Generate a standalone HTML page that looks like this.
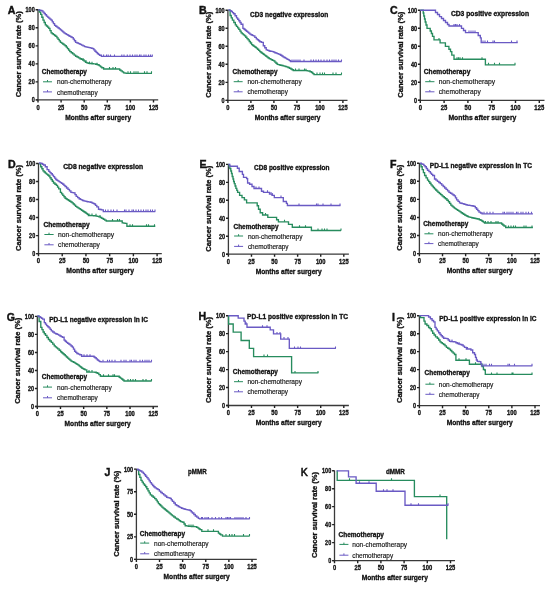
<!DOCTYPE html>
<html><head><meta charset="utf-8"><title>Kaplan-Meier survival curves</title>
<style>
html,body{margin:0;padding:0;background:#fff;}
svg{display:block;filter:blur(0.35px);}
text{font-family:'Liberation Sans', Arial, sans-serif;fill:#111;stroke:#111;stroke-width:0.32px;}
</style></head>
<body>
<svg width="550" height="589" viewBox="0 0 550 589">
<rect width="550" height="589" fill="#fff"/>
<g stroke="#3a3a3a" stroke-width="1.3" fill="none">
<path d="M38.00 9.50V99.90M35.80 99.90H158.20"/>
<path d="M35.60 99.90H38.00M35.60 81.88H38.00M35.60 63.86H38.00M35.60 45.84H38.00M35.60 27.82H38.00M35.60 9.80H38.00M38.00 99.90V102.50M61.10 99.90V102.50M84.20 99.90V102.50M107.30 99.90V102.50M130.40 99.90V102.50M153.50 99.90V102.50" stroke-width="1.4" stroke="#222"/>
</g>
<text x="34.70" y="102.30" font-size="6.7" font-weight="bold" text-anchor="end" textLength="3.05" lengthAdjust="spacingAndGlyphs">0</text>
<text x="34.70" y="84.28" font-size="6.7" font-weight="bold" text-anchor="end" textLength="6.10" lengthAdjust="spacingAndGlyphs">20</text>
<text x="34.70" y="66.26" font-size="6.7" font-weight="bold" text-anchor="end" textLength="6.10" lengthAdjust="spacingAndGlyphs">40</text>
<text x="34.70" y="48.24" font-size="6.7" font-weight="bold" text-anchor="end" textLength="6.10" lengthAdjust="spacingAndGlyphs">60</text>
<text x="34.70" y="30.22" font-size="6.7" font-weight="bold" text-anchor="end" textLength="6.10" lengthAdjust="spacingAndGlyphs">80</text>
<text x="34.70" y="12.20" font-size="6.7" font-weight="bold" text-anchor="end" textLength="9.15" lengthAdjust="spacingAndGlyphs">100</text>
<text x="38.00" y="109.70" font-size="6.7" font-weight="bold" text-anchor="middle" textLength="3.20" lengthAdjust="spacingAndGlyphs">0</text>
<text x="61.10" y="109.70" font-size="6.7" font-weight="bold" text-anchor="middle" textLength="6.39" lengthAdjust="spacingAndGlyphs">25</text>
<text x="84.20" y="109.70" font-size="6.7" font-weight="bold" text-anchor="middle" textLength="6.39" lengthAdjust="spacingAndGlyphs">50</text>
<text x="107.30" y="109.70" font-size="6.7" font-weight="bold" text-anchor="middle" textLength="6.39" lengthAdjust="spacingAndGlyphs">75</text>
<text x="130.40" y="109.70" font-size="6.7" font-weight="bold" text-anchor="middle" textLength="9.59" lengthAdjust="spacingAndGlyphs">100</text>
<text x="153.50" y="109.70" font-size="6.7" font-weight="bold" text-anchor="middle" textLength="9.59" lengthAdjust="spacingAndGlyphs">125</text>
<text x="98.10" y="119.50" font-size="7.0" font-weight="bold" text-anchor="middle" textLength="65.94" lengthAdjust="spacingAndGlyphs">Months after surgery</text>
<text x="0" y="0" font-size="7.4" font-weight="bold" text-anchor="middle" textLength="86" lengthAdjust="spacingAndGlyphs" transform="translate(20.70 54.25) rotate(-90)">Cancer survival rate (%)</text>
<text x="7.80" y="14.20" font-size="10.3" font-weight="bold" textLength="7.66" lengthAdjust="spacingAndGlyphs" style="stroke-width:0.4px">A</text>
<text x="41.80" y="74.20" font-size="7.0" font-weight="bold" textLength="45.16" lengthAdjust="spacingAndGlyphs">Chemotherapy</text>
<path d="M43.00 81.80h8.99M47.50 81.80v-1.8" stroke="#278c5e" stroke-width="1" fill="none"/>
<text x="57.00" y="84.40" font-size="6.5" textLength="54.55" lengthAdjust="spacingAndGlyphs" style="stroke-width:0.15px">non-chemotherapy</text>
<path d="M43.00 91.90h8.99M47.50 91.90v-1.8" stroke="#6a5ac4" stroke-width="1" fill="none"/>
<text x="57.00" y="94.50" font-size="6.5" textLength="40.66" lengthAdjust="spacingAndGlyphs" style="stroke-width:0.15px">chemotherapy</text>
<path d="M38.20 10.00H39.45V12.15H40.70V14.30H41.85V17.20H43.00V20.10H44.15V22.45H45.30V24.80H46.47V25.97H47.63V27.13H48.80V28.30H49.95V30.60H51.10V32.90H52.27V33.77H53.45V34.65H54.62V35.52H55.80V36.40H56.95V37.88H58.10V39.35H59.25V40.82H60.40V42.30H61.57V43.15H62.75V44.00H63.92V44.85H65.10V45.70H66.27V47.18H67.45V48.65H68.62V50.12H69.80V51.60H71.25V52.75H72.70V53.90H74.15V55.05H75.60V56.20H77.07V57.03H78.53V57.87H80.00V58.70H81.35V59.35H82.70V60.00H84.10V61.15H85.50V62.30H86.85V62.85H88.20V63.40H89.46V63.50H90.72V63.60H91.98V63.70H93.24V63.80H94.50V63.90H95.73V64.27H96.97V64.63H98.20V65.00H99.40V65.90H100.60V66.80H101.80V67.70H103.60V69.00H118.40H119.65V69.95H120.90V70.90H122.25V71.85H123.60V72.80H125.00V73.05H126.40V73.30H152.00" stroke="#278c5e" stroke-width="1.35" fill="none" stroke-linejoin="miter"/>
<path d="M83.00 60.00v-2.0M86.00 62.30v-2.0M89.50 63.50v-2.0M92.00 63.70v-2.0M97.00 64.63v-2.0M109.50 69.00v-2.0M113.00 69.00v-2.0M115.50 69.00v-2.0M128.00 73.30v-2.0M130.50 73.30v-2.0M134.00 73.30v-2.0M136.00 73.30v-2.0M138.00 73.30v-2.0M144.50 73.30v-2.0M147.00 73.30v-2.0M151.50 73.30v-2.0" stroke="#278c5e" stroke-width="1.1" fill="none"/>
<path d="M38.20 9.80H39.40V10.13H40.60V10.47H41.80V10.80H42.97V12.12H44.15V13.45H45.33V14.78H46.50V16.10H47.65V17.10H48.80V18.10H49.95V19.10H51.10V20.10H52.27V21.87H53.43V23.63H54.60V25.40H55.77V26.27H56.95V27.15H58.12V28.02H59.30V28.90H60.45V29.90H61.60V30.90H62.75V31.90H63.90V32.90H65.08V33.60H66.26V34.30H67.44V35.00H68.62V35.70H69.80V36.40H70.95V37.00H72.10V37.60H73.27V39.17H74.43V40.73H75.60V42.30H77.07V42.97H78.53V43.63H80.00V44.30H81.50V45.07H83.00V45.83H84.50V46.60H85.65V46.85H86.80V47.10H87.95V47.35H89.10V47.60H90.30V47.93H91.50V48.27H92.70V48.60H93.85V49.90H95.00V51.20H96.15V52.35H97.30V53.50H98.40V54.35H99.50V55.20H101.40V56.40H152.50" stroke="#6a5ac4" stroke-width="1.35" fill="none" stroke-linejoin="miter"/>
<path d="M103.60 56.40v-2.0M106.50 56.40v-2.0M108.20 56.40v-2.0M110.50 56.40v-2.0M114.50 56.40v-2.0M121.80 56.40v-2.0M124.00 56.40v-2.0M127.30 56.40v-2.0M130.00 56.40v-2.0M132.50 56.40v-2.0M135.00 56.40v-2.0M137.00 56.40v-2.0M139.50 56.40v-2.0M141.00 56.40v-2.0M144.00 56.40v-2.0M146.00 56.40v-2.0M148.50 56.40v-2.0M150.50 56.40v-2.0M152.30 56.40v-2.0" stroke="#6a5ac4" stroke-width="1.1" fill="none"/>
<g stroke="#3a3a3a" stroke-width="1.3" fill="none">
<path d="M227.90 9.90V100.40M225.70 100.40H347.50"/>
<path d="M225.50 100.40H227.90M225.50 82.36H227.90M225.50 64.32H227.90M225.50 46.28H227.90M225.50 28.24H227.90M225.50 10.20H227.90M227.90 100.40V103.00M250.90 100.40V103.00M273.90 100.40V103.00M296.90 100.40V103.00M319.90 100.40V103.00M342.90 100.40V103.00" stroke-width="1.4" stroke="#222"/>
</g>
<text x="224.60" y="102.80" font-size="6.7" font-weight="bold" text-anchor="end" textLength="3.05" lengthAdjust="spacingAndGlyphs">0</text>
<text x="224.60" y="84.76" font-size="6.7" font-weight="bold" text-anchor="end" textLength="6.10" lengthAdjust="spacingAndGlyphs">20</text>
<text x="224.60" y="66.72" font-size="6.7" font-weight="bold" text-anchor="end" textLength="6.10" lengthAdjust="spacingAndGlyphs">40</text>
<text x="224.60" y="48.68" font-size="6.7" font-weight="bold" text-anchor="end" textLength="6.10" lengthAdjust="spacingAndGlyphs">60</text>
<text x="224.60" y="30.64" font-size="6.7" font-weight="bold" text-anchor="end" textLength="6.10" lengthAdjust="spacingAndGlyphs">80</text>
<text x="224.60" y="12.60" font-size="6.7" font-weight="bold" text-anchor="end" textLength="9.15" lengthAdjust="spacingAndGlyphs">100</text>
<text x="227.90" y="110.20" font-size="6.7" font-weight="bold" text-anchor="middle" textLength="3.18" lengthAdjust="spacingAndGlyphs">0</text>
<text x="250.90" y="110.20" font-size="6.7" font-weight="bold" text-anchor="middle" textLength="6.37" lengthAdjust="spacingAndGlyphs">25</text>
<text x="273.90" y="110.20" font-size="6.7" font-weight="bold" text-anchor="middle" textLength="6.37" lengthAdjust="spacingAndGlyphs">50</text>
<text x="296.90" y="110.20" font-size="6.7" font-weight="bold" text-anchor="middle" textLength="6.37" lengthAdjust="spacingAndGlyphs">75</text>
<text x="319.90" y="110.20" font-size="6.7" font-weight="bold" text-anchor="middle" textLength="9.55" lengthAdjust="spacingAndGlyphs">100</text>
<text x="342.90" y="110.20" font-size="6.7" font-weight="bold" text-anchor="middle" textLength="9.55" lengthAdjust="spacingAndGlyphs">125</text>
<text x="287.70" y="120.00" font-size="7.0" font-weight="bold" text-anchor="middle" textLength="65.66" lengthAdjust="spacingAndGlyphs">Months after surgery</text>
<text x="0" y="0" font-size="7.4" font-weight="bold" text-anchor="middle" textLength="86" lengthAdjust="spacingAndGlyphs" transform="translate(210.60 54.70) rotate(-90)">Cancer survival rate (%)</text>
<text x="198.90" y="13.60" font-size="10.3" font-weight="bold" textLength="7.66" lengthAdjust="spacingAndGlyphs" style="stroke-width:0.4px">B</text>
<text x="250.00" y="16.60" font-size="6.6" font-weight="bold" textLength="78.20" lengthAdjust="spacingAndGlyphs">CD3 negative expression</text>
<text x="232.60" y="73.60" font-size="7.0" font-weight="bold" textLength="44.97" lengthAdjust="spacingAndGlyphs">Chemotherapy</text>
<path d="M233.70 81.70h8.95M238.18 81.70v-1.8" stroke="#278c5e" stroke-width="1" fill="none"/>
<text x="247.40" y="84.30" font-size="6.5" textLength="54.32" lengthAdjust="spacingAndGlyphs" style="stroke-width:0.15px">non-chemotherapy</text>
<path d="M233.70 91.80h8.95M238.18 91.80v-1.8" stroke="#6a5ac4" stroke-width="1" fill="none"/>
<text x="247.40" y="94.40" font-size="6.5" textLength="40.49" lengthAdjust="spacingAndGlyphs" style="stroke-width:0.15px">chemotherapy</text>
<path d="M228.30 10.20H230.10V15.50H231.25V17.80H232.40V20.10H233.85V22.45H235.30V24.80H236.47V26.33H237.63V27.87H238.80V29.40H239.95V31.15H241.10V32.90H242.27V33.90H243.43V34.90H244.60V35.90H245.77V37.23H246.93V38.57H248.10V39.90H249.27V41.47H250.43V43.03H251.60V44.60H252.78V45.48H253.95V46.35H255.12V47.23H256.30V48.10H257.47V49.27H258.63V50.43H259.80V51.60H260.95V52.48H262.10V53.35H263.25V54.23H264.40V55.10H265.57V55.98H266.75V56.85H267.93V57.73H269.10V58.60H270.25V59.17H271.40V59.75H272.55V60.33H273.70V60.90H274.87V62.07H276.03V63.23H277.20V64.40H278.38V64.68H279.55V64.95H280.72V65.22H281.90V65.50H283.05V65.83H284.20V66.15H285.35V66.47H286.50V66.80H287.97V67.53H289.43V68.27H290.90V69.00H292.10V69.75H293.30V70.50H304.50H305.87V70.67H307.23V70.83H308.60V71.00H310.10V71.75H311.60V72.50H312.80V73.55H314.00V74.60H341.70" stroke="#278c5e" stroke-width="1.35" fill="none" stroke-linejoin="miter"/>
<path d="M295.50 70.50v-2.0M299.00 70.50v-2.0M304.50 70.50v-2.0M306.00 70.67v-2.0M317.00 74.60v-2.0M320.00 74.60v-2.0M322.50 74.60v-2.0M324.50 74.60v-2.0M333.00 74.60v-2.0M336.00 74.60v-2.0M341.50 74.60v-2.0" stroke="#278c5e" stroke-width="1.1" fill="none"/>
<path d="M228.30 9.90H229.75V10.65H231.20V11.40H232.40V12.55H233.60V13.70H235.05V15.75H236.50V17.80H237.65V19.25H238.80V20.70H239.95V22.45H241.10V24.20H242.90V28.30H244.07V29.27H245.23V30.23H246.40V31.20H247.57V32.17H248.73V33.13H249.90V34.10H251.07V34.70H252.23V35.30H253.40V35.90H254.85V37.35H256.30V38.80H257.47V39.77H258.63V40.73H259.80V41.70H261.50V42.30H263.30V45.70H264.75V47.75H266.20V49.80H267.65V50.40H269.10V51.00H270.27V51.20H271.43V51.40H272.60V51.60H273.75V52.15H274.90V52.70H276.07V53.15H277.25V53.60H278.43V54.05H279.60V54.50H280.73V55.27H281.87V56.03H283.00V56.80H284.17V57.47H285.33V58.13H286.50V58.80H287.50V59.30H288.50V59.80H289.50V60.65H290.50V61.50H341.70" stroke="#6a5ac4" stroke-width="1.35" fill="none" stroke-linejoin="miter"/>
<path d="M292.00 61.50v-2.0M294.00 61.50v-2.0M296.00 61.50v-2.0M298.00 61.50v-2.0M300.00 61.50v-2.0M304.00 61.50v-2.0M311.00 61.50v-2.0M313.50 61.50v-2.0M316.00 61.50v-2.0M318.50 61.50v-2.0M321.00 61.50v-2.0M324.00 61.50v-2.0M327.00 61.50v-2.0M329.50 61.50v-2.0M332.00 61.50v-2.0M334.00 61.50v-2.0M336.00 61.50v-2.0M338.50 61.50v-2.0M341.50 61.50v-2.0" stroke="#6a5ac4" stroke-width="1.1" fill="none"/>
<g stroke="#3a3a3a" stroke-width="1.3" fill="none">
<path d="M420.30 9.90V100.30M418.10 100.30H544.50"/>
<path d="M417.90 100.30H420.30M417.90 82.28H420.30M417.90 64.26H420.30M417.90 46.24H420.30M417.90 28.22H420.30M417.90 10.20H420.30M420.30 100.30V102.90M444.10 100.30V102.90M467.90 100.30V102.90M491.70 100.30V102.90M515.50 100.30V102.90M539.30 100.30V102.90" stroke-width="1.4" stroke="#222"/>
</g>
<text x="417.00" y="102.70" font-size="6.7" font-weight="bold" text-anchor="end" textLength="3.05" lengthAdjust="spacingAndGlyphs">0</text>
<text x="417.00" y="84.68" font-size="6.7" font-weight="bold" text-anchor="end" textLength="6.10" lengthAdjust="spacingAndGlyphs">20</text>
<text x="417.00" y="66.66" font-size="6.7" font-weight="bold" text-anchor="end" textLength="6.10" lengthAdjust="spacingAndGlyphs">40</text>
<text x="417.00" y="48.64" font-size="6.7" font-weight="bold" text-anchor="end" textLength="6.10" lengthAdjust="spacingAndGlyphs">60</text>
<text x="417.00" y="30.62" font-size="6.7" font-weight="bold" text-anchor="end" textLength="6.10" lengthAdjust="spacingAndGlyphs">80</text>
<text x="417.00" y="12.60" font-size="6.7" font-weight="bold" text-anchor="end" textLength="9.15" lengthAdjust="spacingAndGlyphs">100</text>
<text x="420.30" y="110.10" font-size="6.7" font-weight="bold" text-anchor="middle" textLength="3.29" lengthAdjust="spacingAndGlyphs">0</text>
<text x="444.10" y="110.10" font-size="6.7" font-weight="bold" text-anchor="middle" textLength="6.59" lengthAdjust="spacingAndGlyphs">25</text>
<text x="467.90" y="110.10" font-size="6.7" font-weight="bold" text-anchor="middle" textLength="6.59" lengthAdjust="spacingAndGlyphs">50</text>
<text x="491.70" y="110.10" font-size="6.7" font-weight="bold" text-anchor="middle" textLength="6.59" lengthAdjust="spacingAndGlyphs">75</text>
<text x="515.50" y="110.10" font-size="6.7" font-weight="bold" text-anchor="middle" textLength="9.88" lengthAdjust="spacingAndGlyphs">100</text>
<text x="539.30" y="110.10" font-size="6.7" font-weight="bold" text-anchor="middle" textLength="9.88" lengthAdjust="spacingAndGlyphs">125</text>
<text x="482.40" y="119.90" font-size="7.0" font-weight="bold" text-anchor="middle" textLength="67.94" lengthAdjust="spacingAndGlyphs">Months after surgery</text>
<text x="0" y="0" font-size="7.4" font-weight="bold" text-anchor="middle" textLength="86" lengthAdjust="spacingAndGlyphs" transform="translate(403.00 54.65) rotate(-90)">Cancer survival rate (%)</text>
<text x="389.90" y="14.10" font-size="10.3" font-weight="bold" textLength="7.66" lengthAdjust="spacingAndGlyphs" style="stroke-width:0.4px">C</text>
<text x="450.90" y="16.10" font-size="6.6" font-weight="bold" textLength="78.20" lengthAdjust="spacingAndGlyphs">CD3 positive expression</text>
<text x="423.80" y="74.10" font-size="7.0" font-weight="bold" textLength="46.53" lengthAdjust="spacingAndGlyphs">Chemotherapy</text>
<path d="M425.20 81.70h9.26M429.83 81.70v-1.8" stroke="#278c5e" stroke-width="1" fill="none"/>
<text x="438.80" y="84.30" font-size="6.5" textLength="56.21" lengthAdjust="spacingAndGlyphs" style="stroke-width:0.15px">non-chemotherapy</text>
<path d="M425.20 91.80h9.26M429.83 91.80v-1.8" stroke="#6a5ac4" stroke-width="1" fill="none"/>
<text x="438.80" y="94.40" font-size="6.5" textLength="41.90" lengthAdjust="spacingAndGlyphs" style="stroke-width:0.15px">chemotherapy</text>
<path d="M420.30 10.20H423.20V13.00H423.80V16.00H424.50V19.00H425.20V22.00H426.00V25.00H427.00V28.30H430.20V31.00H431.40V33.50H432.50V36.40H434.00V39.90H440.10V42.80H445.40V46.30H448.90V49.20H450.50V51.60H451.80V55.10H454.00V59.20H485.40V64.80H515.40" stroke="#278c5e" stroke-width="1.35" fill="none" stroke-linejoin="miter"/>
<path d="M439.00 39.90v-2.0M457.00 59.20v-2.0M458.50 59.20v-2.0M460.00 59.20v-2.0M462.50 59.20v-2.0M482.00 59.20v-2.0M488.50 64.80v-2.0M494.50 64.80v-2.0M499.50 64.80v-2.0M515.00 64.80v-2.0" stroke="#278c5e" stroke-width="1.1" fill="none"/>
<path d="M420.30 10.20H435.50V12.50H437.50V14.50H439.50V16.60H441.50V18.50H443.50V20.50H445.50V22.50H447.50V24.50H449.00V26.00H461.50V28.30H463.50V30.50H465.50V32.60H478.20V35.50H480.30V37.80H481.20V42.60H517.70" stroke="#6a5ac4" stroke-width="1.35" fill="none" stroke-linejoin="miter"/>
<path d="M454.00 26.00v-2.0M455.50 26.00v-2.0M457.00 26.00v-2.0M459.50 26.00v-2.0M469.00 32.60v-2.0M471.00 32.60v-2.0M473.00 32.60v-2.0M475.00 32.60v-2.0M483.00 42.60v-2.0M485.00 42.60v-2.0M487.50 42.60v-2.0M493.00 42.60v-2.0M494.50 42.60v-2.0M511.50 42.60v-2.0M517.00 42.60v-2.0" stroke="#6a5ac4" stroke-width="1.1" fill="none"/>
<g stroke="#3a3a3a" stroke-width="1.3" fill="none">
<path d="M38.50 163.20V253.60M36.30 253.60H161.80"/>
<path d="M36.10 253.60H38.50M36.10 235.58H38.50M36.10 217.56H38.50M36.10 199.54H38.50M36.10 181.52H38.50M36.10 163.50H38.50M38.50 253.60V256.20M62.22 253.60V256.20M85.94 253.60V256.20M109.66 253.60V256.20M133.38 253.60V256.20M157.10 253.60V256.20" stroke-width="1.4" stroke="#222"/>
</g>
<text x="35.20" y="256.00" font-size="6.7" font-weight="bold" text-anchor="end" textLength="3.05" lengthAdjust="spacingAndGlyphs">0</text>
<text x="35.20" y="237.98" font-size="6.7" font-weight="bold" text-anchor="end" textLength="6.10" lengthAdjust="spacingAndGlyphs">20</text>
<text x="35.20" y="219.96" font-size="6.7" font-weight="bold" text-anchor="end" textLength="6.10" lengthAdjust="spacingAndGlyphs">40</text>
<text x="35.20" y="201.94" font-size="6.7" font-weight="bold" text-anchor="end" textLength="6.10" lengthAdjust="spacingAndGlyphs">60</text>
<text x="35.20" y="183.92" font-size="6.7" font-weight="bold" text-anchor="end" textLength="6.10" lengthAdjust="spacingAndGlyphs">80</text>
<text x="35.20" y="165.90" font-size="6.7" font-weight="bold" text-anchor="end" textLength="9.15" lengthAdjust="spacingAndGlyphs">100</text>
<text x="38.50" y="263.40" font-size="6.7" font-weight="bold" text-anchor="middle" textLength="3.28" lengthAdjust="spacingAndGlyphs">0</text>
<text x="62.22" y="263.40" font-size="6.7" font-weight="bold" text-anchor="middle" textLength="6.57" lengthAdjust="spacingAndGlyphs">25</text>
<text x="85.94" y="263.40" font-size="6.7" font-weight="bold" text-anchor="middle" textLength="6.57" lengthAdjust="spacingAndGlyphs">50</text>
<text x="109.66" y="263.40" font-size="6.7" font-weight="bold" text-anchor="middle" textLength="6.57" lengthAdjust="spacingAndGlyphs">75</text>
<text x="133.38" y="263.40" font-size="6.7" font-weight="bold" text-anchor="middle" textLength="9.85" lengthAdjust="spacingAndGlyphs">100</text>
<text x="157.10" y="263.40" font-size="6.7" font-weight="bold" text-anchor="middle" textLength="9.85" lengthAdjust="spacingAndGlyphs">125</text>
<text x="100.15" y="273.20" font-size="7.0" font-weight="bold" text-anchor="middle" textLength="67.71" lengthAdjust="spacingAndGlyphs">Months after surgery</text>
<text x="0" y="0" font-size="7.4" font-weight="bold" text-anchor="middle" textLength="86" lengthAdjust="spacingAndGlyphs" transform="translate(21.20 207.95) rotate(-90)">Cancer survival rate (%)</text>
<text x="8.00" y="167.70" font-size="10.3" font-weight="bold" textLength="7.66" lengthAdjust="spacingAndGlyphs" style="stroke-width:0.4px">D</text>
<text x="63.20" y="169.10" font-size="6.6" font-weight="bold" textLength="80.00" lengthAdjust="spacingAndGlyphs">CD8 negative expression</text>
<text x="43.40" y="227.00" font-size="7.0" font-weight="bold" textLength="46.37" lengthAdjust="spacingAndGlyphs">Chemotherapy</text>
<path d="M44.40 234.50h9.23M49.02 234.50v-1.8" stroke="#278c5e" stroke-width="1" fill="none"/>
<text x="58.10" y="237.10" font-size="6.5" textLength="56.02" lengthAdjust="spacingAndGlyphs" style="stroke-width:0.15px">non-chemotherapy</text>
<path d="M44.40 244.80h9.23M49.02 244.80v-1.8" stroke="#6a5ac4" stroke-width="1" fill="none"/>
<text x="58.10" y="247.40" font-size="6.5" textLength="41.76" lengthAdjust="spacingAndGlyphs" style="stroke-width:0.15px">chemotherapy</text>
<path d="M38.90 163.80H40.70V166.70H41.85V168.75H43.00V170.80H44.15V171.95H45.30V173.10H46.47V174.07H47.63V175.03H48.80V176.00H49.95V177.75H51.10V179.50H52.30V181.25H53.50V183.00H54.95V184.20H56.40V185.40H57.55V187.10H58.70V188.80H60.40V192.30H61.60V193.80H62.80V195.30H63.95V196.75H65.10V198.20H66.27V198.97H67.43V199.73H68.60V200.50H69.77V201.27H70.93V202.03H72.10V202.80H73.27V203.97H74.43V205.13H75.60V206.30H76.77V207.07H77.93V207.83H79.10V208.60H80.27V209.40H81.43V210.20H82.60V211.00H83.77V211.77H84.93V212.53H86.10V213.30H87.25V214.40H88.40V215.50H89.57V215.53H90.73V215.57H91.90V215.60H93.45V215.70H95.00V215.80H96.20V216.05H97.40V216.30H98.85V216.90H100.30V217.50H101.80V218.35H103.30V219.20H104.75V220.10H106.20V221.00H120.40H122.20V222.80H123.65V223.10H125.10V223.40H126.90V226.20H155.30" stroke="#278c5e" stroke-width="1.35" fill="none" stroke-linejoin="miter"/>
<path d="M89.00 215.50v-2.0M92.00 215.60v-2.0M96.00 215.80v-2.0M100.00 216.90v-2.0M112.50 221.00v-2.0M117.50 221.00v-2.0M119.50 221.00v-2.0M130.00 226.20v-2.0M132.50 226.20v-2.0M146.50 226.20v-2.0M148.50 226.20v-2.0M154.50 226.20v-2.0" stroke="#278c5e" stroke-width="1.1" fill="none"/>
<path d="M38.90 162.90H40.05V163.15H41.20V163.40H42.40V164.20H43.60V165.00H45.30V166.70H47.10V169.60H48.80V171.40H49.95V172.55H51.10V173.70H52.30V175.15H53.50V176.60H54.65V178.05H55.80V179.50H56.97V180.30H58.13V181.10H59.30V181.90H60.47V182.67H61.63V183.43H62.80V184.20H63.95V185.35H65.10V186.50H66.55V187.95H68.00V189.40H69.45V190.85H70.90V192.30H72.35V192.60H73.80V192.90H75.00V194.65H76.20V196.40H77.65V197.55H79.10V198.70H80.27V199.30H81.43V199.90H82.60V200.50H83.75V200.80H84.90V201.10H86.05V201.40H87.20V201.70H88.37V201.87H89.53V202.03H90.70V202.20H91.87V202.80H93.03V203.40H94.20V204.00H95.50V205.40H96.80V206.80H98.50V209.20H100.00V209.50H101.50V209.80H103.30V211.60H155.30" stroke="#6a5ac4" stroke-width="1.35" fill="none" stroke-linejoin="miter"/>
<path d="M105.50 211.60v-2.0M108.00 211.60v-2.0M111.00 211.60v-2.0M113.50 211.60v-2.0M117.00 211.60v-2.0M124.50 211.60v-2.0M126.00 211.60v-2.0M129.00 211.60v-2.0M132.00 211.60v-2.0M133.50 211.60v-2.0M136.00 211.60v-2.0M138.50 211.60v-2.0M141.00 211.60v-2.0M143.50 211.60v-2.0M146.00 211.60v-2.0M148.00 211.60v-2.0M150.50 211.60v-2.0M152.50 211.60v-2.0M155.00 211.60v-2.0" stroke="#6a5ac4" stroke-width="1.1" fill="none"/>
<g stroke="#3a3a3a" stroke-width="1.3" fill="none">
<path d="M228.40 164.10V254.20M226.20 254.20H348.90"/>
<path d="M226.00 254.20H228.40M226.00 236.24H228.40M226.00 218.28H228.40M226.00 200.32H228.40M226.00 182.36H228.40M226.00 164.40H228.40M228.40 254.20V256.80M251.48 254.20V256.80M274.56 254.20V256.80M297.64 254.20V256.80M320.72 254.20V256.80M343.80 254.20V256.80" stroke-width="1.4" stroke="#222"/>
</g>
<text x="225.10" y="256.60" font-size="6.7" font-weight="bold" text-anchor="end" textLength="3.05" lengthAdjust="spacingAndGlyphs">0</text>
<text x="225.10" y="238.64" font-size="6.7" font-weight="bold" text-anchor="end" textLength="6.10" lengthAdjust="spacingAndGlyphs">20</text>
<text x="225.10" y="220.68" font-size="6.7" font-weight="bold" text-anchor="end" textLength="6.10" lengthAdjust="spacingAndGlyphs">40</text>
<text x="225.10" y="202.72" font-size="6.7" font-weight="bold" text-anchor="end" textLength="6.10" lengthAdjust="spacingAndGlyphs">60</text>
<text x="225.10" y="184.76" font-size="6.7" font-weight="bold" text-anchor="end" textLength="6.10" lengthAdjust="spacingAndGlyphs">80</text>
<text x="225.10" y="166.80" font-size="6.7" font-weight="bold" text-anchor="end" textLength="9.15" lengthAdjust="spacingAndGlyphs">100</text>
<text x="228.40" y="264.00" font-size="6.7" font-weight="bold" text-anchor="middle" textLength="3.19" lengthAdjust="spacingAndGlyphs">0</text>
<text x="251.48" y="264.00" font-size="6.7" font-weight="bold" text-anchor="middle" textLength="6.39" lengthAdjust="spacingAndGlyphs">25</text>
<text x="274.56" y="264.00" font-size="6.7" font-weight="bold" text-anchor="middle" textLength="6.39" lengthAdjust="spacingAndGlyphs">50</text>
<text x="297.64" y="264.00" font-size="6.7" font-weight="bold" text-anchor="middle" textLength="6.39" lengthAdjust="spacingAndGlyphs">75</text>
<text x="320.72" y="264.00" font-size="6.7" font-weight="bold" text-anchor="middle" textLength="9.58" lengthAdjust="spacingAndGlyphs">100</text>
<text x="343.80" y="264.00" font-size="6.7" font-weight="bold" text-anchor="middle" textLength="9.58" lengthAdjust="spacingAndGlyphs">125</text>
<text x="288.65" y="273.80" font-size="7.0" font-weight="bold" text-anchor="middle" textLength="65.89" lengthAdjust="spacingAndGlyphs">Months after surgery</text>
<text x="0" y="0" font-size="7.4" font-weight="bold" text-anchor="middle" textLength="86" lengthAdjust="spacingAndGlyphs" transform="translate(211.10 208.70) rotate(-90)">Cancer survival rate (%)</text>
<text x="199.40" y="168.20" font-size="10.3" font-weight="bold" textLength="7.07" lengthAdjust="spacingAndGlyphs" style="stroke-width:0.4px">E</text>
<text x="254.10" y="169.90" font-size="6.6" font-weight="bold" textLength="75.40" lengthAdjust="spacingAndGlyphs">CD8 positive expression</text>
<text x="233.50" y="229.00" font-size="7.0" font-weight="bold" textLength="45.12" lengthAdjust="spacingAndGlyphs">Chemotherapy</text>
<path d="M234.10 236.00h8.98M238.59 236.00v-1.8" stroke="#278c5e" stroke-width="1" fill="none"/>
<text x="247.90" y="238.60" font-size="6.5" textLength="54.51" lengthAdjust="spacingAndGlyphs" style="stroke-width:0.15px">non-chemotherapy</text>
<path d="M234.10 246.40h8.98M238.59 246.40v-1.8" stroke="#6a5ac4" stroke-width="1" fill="none"/>
<text x="247.90" y="249.00" font-size="6.5" textLength="40.63" lengthAdjust="spacingAndGlyphs" style="stroke-width:0.15px">chemotherapy</text>
<path d="M228.40 164.40H228.90V166.00H229.80V168.50H230.80V171.00H231.50V173.50H232.20V176.50H233.00V179.00H233.60V181.50H234.30V183.60H235.10V186.00H235.90V188.30H236.80V190.30H237.60V192.30H239.60V195.30H242.00V197.60H244.40V199.90H246.60V202.80H257.20V205.70H258.50V209.20H260.20V212.70H262.60V215.00H267.80V217.40H276.60V219.70H278.40V221.80H288.50V224.30H292.30V227.20H311.40V230.50H341.10" stroke="#278c5e" stroke-width="1.35" fill="none" stroke-linejoin="miter"/>
<path d="M244.50 199.90v-2.0M265.50 215.00v-2.0M284.50 221.80v-2.0M299.50 227.20v-2.0M305.50 227.20v-2.0M318.00 230.50v-2.0M322.00 230.50v-2.0M324.50 230.50v-2.0M327.00 230.50v-2.0M341.00 230.50v-2.0" stroke="#278c5e" stroke-width="1.1" fill="none"/>
<path d="M228.40 164.40H229.80V166.20H237.40V168.20H239.20V171.50H242.40V174.30H243.50V177.30H246.60V178.60H247.60V181.30H247.60V183.00H249.60V184.20H252.00V186.50H254.00V188.50H261.50V191.20H263.50V192.30H269.50V194.10H272.00V195.30H274.30V197.60H283.30V201.50H286.40V203.40H287.40V205.50H340.50" stroke="#6a5ac4" stroke-width="1.35" fill="none" stroke-linejoin="miter"/>
<path d="M256.00 188.50v-2.0M259.00 188.50v-2.0M267.50 192.30v-2.0M271.00 194.10v-2.0M272.50 195.30v-2.0M281.00 197.60v-2.0M299.00 205.50v-2.0M316.50 205.50v-2.0M318.00 205.50v-2.0M323.00 205.50v-2.0M331.00 205.50v-2.0M340.00 205.50v-2.0" stroke="#6a5ac4" stroke-width="1.1" fill="none"/>
<g stroke="#3a3a3a" stroke-width="1.3" fill="none">
<path d="M419.40 162.90V253.60M417.20 253.60H540.00"/>
<path d="M417.00 253.60H419.40M417.00 235.52H419.40M417.00 217.44H419.40M417.00 199.36H419.40M417.00 181.28H419.40M417.00 163.20H419.40M419.40 253.60V256.20M442.52 253.60V256.20M465.64 253.60V256.20M488.76 253.60V256.20M511.88 253.60V256.20M535.00 253.60V256.20" stroke-width="1.4" stroke="#222"/>
</g>
<text x="416.10" y="256.00" font-size="6.7" font-weight="bold" text-anchor="end" textLength="3.05" lengthAdjust="spacingAndGlyphs">0</text>
<text x="416.10" y="237.92" font-size="6.7" font-weight="bold" text-anchor="end" textLength="6.10" lengthAdjust="spacingAndGlyphs">20</text>
<text x="416.10" y="219.84" font-size="6.7" font-weight="bold" text-anchor="end" textLength="6.10" lengthAdjust="spacingAndGlyphs">40</text>
<text x="416.10" y="201.76" font-size="6.7" font-weight="bold" text-anchor="end" textLength="6.10" lengthAdjust="spacingAndGlyphs">60</text>
<text x="416.10" y="183.68" font-size="6.7" font-weight="bold" text-anchor="end" textLength="6.10" lengthAdjust="spacingAndGlyphs">80</text>
<text x="416.10" y="165.60" font-size="6.7" font-weight="bold" text-anchor="end" textLength="9.15" lengthAdjust="spacingAndGlyphs">100</text>
<text x="419.40" y="263.40" font-size="6.7" font-weight="bold" text-anchor="middle" textLength="3.20" lengthAdjust="spacingAndGlyphs">0</text>
<text x="442.52" y="263.40" font-size="6.7" font-weight="bold" text-anchor="middle" textLength="6.40" lengthAdjust="spacingAndGlyphs">25</text>
<text x="465.64" y="263.40" font-size="6.7" font-weight="bold" text-anchor="middle" textLength="6.40" lengthAdjust="spacingAndGlyphs">50</text>
<text x="488.76" y="263.40" font-size="6.7" font-weight="bold" text-anchor="middle" textLength="6.40" lengthAdjust="spacingAndGlyphs">75</text>
<text x="511.88" y="263.40" font-size="6.7" font-weight="bold" text-anchor="middle" textLength="9.60" lengthAdjust="spacingAndGlyphs">100</text>
<text x="535.00" y="263.40" font-size="6.7" font-weight="bold" text-anchor="middle" textLength="9.60" lengthAdjust="spacingAndGlyphs">125</text>
<text x="479.70" y="273.20" font-size="7.0" font-weight="bold" text-anchor="middle" textLength="66.00" lengthAdjust="spacingAndGlyphs">Months after surgery</text>
<text x="0" y="0" font-size="7.4" font-weight="bold" text-anchor="middle" textLength="86" lengthAdjust="spacingAndGlyphs" transform="translate(402.10 207.80) rotate(-90)">Cancer survival rate (%)</text>
<text x="390.10" y="168.20" font-size="10.3" font-weight="bold" textLength="6.48" lengthAdjust="spacingAndGlyphs" style="stroke-width:0.4px">F</text>
<text x="429.80" y="168.20" font-size="6.6" font-weight="bold" textLength="102.10" lengthAdjust="spacingAndGlyphs">PD-L1 negative expression in TC</text>
<text x="423.20" y="225.70" font-size="7.0" font-weight="bold" textLength="45.20" lengthAdjust="spacingAndGlyphs">Chemotherapy</text>
<path d="M424.40 233.80h9.00M428.90 233.80v-1.8" stroke="#278c5e" stroke-width="1" fill="none"/>
<text x="438.10" y="236.40" font-size="6.5" textLength="54.60" lengthAdjust="spacingAndGlyphs" style="stroke-width:0.15px">non-chemotherapy</text>
<path d="M424.40 243.60h9.00M428.90 243.60v-1.8" stroke="#6a5ac4" stroke-width="1" fill="none"/>
<text x="438.10" y="246.20" font-size="6.5" textLength="40.70" lengthAdjust="spacingAndGlyphs" style="stroke-width:0.15px">chemotherapy</text>
<path d="M419.90 163.80H421.05V166.70H422.20V169.60H423.40V172.55H424.60V175.50H426.05V177.80H427.50V180.10H428.67V181.67H429.83V183.23H431.00V184.80H432.17V186.13H433.33V187.47H434.50V188.80H435.67V189.97H436.83V191.13H438.00V192.30H439.33V193.47H440.67V194.63H442.00V195.80H443.17V196.77H444.33V197.73H445.50V198.70H446.95V200.20H448.40V201.70H449.60V203.40H450.80V205.10H451.97V206.10H453.13V207.10H454.30V208.10H455.43V208.87H456.57V209.63H457.70V210.40H458.87V211.17H460.03V211.93H461.20V212.70H462.37V213.47H463.53V214.23H464.70V215.00H465.87V215.60H467.03V216.20H468.20V216.80H469.38V217.10H470.55V217.40H471.72V217.70H472.90V218.00H474.12V218.25H475.35V218.50H476.57V218.75H477.80V219.00H479.35V219.70H480.90V220.40H482.10V221.27H483.30V222.13H484.50V223.00H499.80H501.60V224.00H502.80V225.00H504.00V226.00H505.70V227.50H532.90" stroke="#278c5e" stroke-width="1.35" fill="none" stroke-linejoin="miter"/>
<path d="M485.50 223.00v-2.0M488.00 223.00v-2.0M491.00 223.00v-2.0M496.00 223.00v-2.0M498.00 223.00v-2.0M508.50 227.50v-2.0M511.00 227.50v-2.0M513.50 227.50v-2.0M515.50 227.50v-2.0M524.00 227.50v-2.0M526.00 227.50v-2.0M532.00 227.50v-2.0" stroke="#278c5e" stroke-width="1.1" fill="none"/>
<path d="M419.90 163.20H421.35V163.80H422.80V164.40H423.95V165.55H425.10V166.70H426.30V168.45H427.50V170.20H428.95V171.65H430.40V173.10H431.55V174.30H432.70V175.50H434.50V179.00H435.95V180.15H437.40V181.30H438.85V182.45H440.30V183.60H441.75V185.05H443.20V186.50H444.65V187.95H446.10V189.40H447.55V190.85H449.00V192.30H450.45V193.20H451.90V194.10H453.10V194.95H454.30V195.80H455.45V197.85H456.60V199.90H458.05V201.35H459.50V202.80H460.87V203.20H462.23V203.60H463.60V204.00H464.77V204.37H465.93V204.73H467.10V205.10H468.25V205.25H469.40V205.40H470.55V205.55H471.70V205.70H472.85V206.00H474.00V206.30H475.30V207.75H476.60V209.20H477.80V210.65H479.00V212.10H480.55V212.95H482.10V213.80H532.90" stroke="#6a5ac4" stroke-width="1.35" fill="none" stroke-linejoin="miter"/>
<path d="M484.00 213.80v-2.0M487.00 213.80v-2.0M490.00 213.80v-2.0M493.00 213.80v-2.0M503.00 213.80v-2.0M504.50 213.80v-2.0M507.00 213.80v-2.0M509.00 213.80v-2.0M511.00 213.80v-2.0M513.00 213.80v-2.0M516.50 213.80v-2.0M518.00 213.80v-2.0M521.00 213.80v-2.0M523.00 213.80v-2.0M526.00 213.80v-2.0M528.50 213.80v-2.0M531.50 213.80v-2.0" stroke="#6a5ac4" stroke-width="1.1" fill="none"/>
<g stroke="#3a3a3a" stroke-width="1.3" fill="none">
<path d="M37.30 316.10V406.50M35.10 406.50H158.00"/>
<path d="M34.90 406.50H37.30M34.90 388.48H37.30M34.90 370.46H37.30M34.90 352.44H37.30M34.90 334.42H37.30M34.90 316.40H37.30M37.30 406.50V409.10M60.48 406.50V409.10M83.66 406.50V409.10M106.84 406.50V409.10M130.02 406.50V409.10M153.20 406.50V409.10" stroke-width="1.4" stroke="#222"/>
</g>
<text x="34.00" y="408.90" font-size="6.7" font-weight="bold" text-anchor="end" textLength="3.05" lengthAdjust="spacingAndGlyphs">0</text>
<text x="34.00" y="390.88" font-size="6.7" font-weight="bold" text-anchor="end" textLength="6.10" lengthAdjust="spacingAndGlyphs">20</text>
<text x="34.00" y="372.86" font-size="6.7" font-weight="bold" text-anchor="end" textLength="6.10" lengthAdjust="spacingAndGlyphs">40</text>
<text x="34.00" y="354.84" font-size="6.7" font-weight="bold" text-anchor="end" textLength="6.10" lengthAdjust="spacingAndGlyphs">60</text>
<text x="34.00" y="336.82" font-size="6.7" font-weight="bold" text-anchor="end" textLength="6.10" lengthAdjust="spacingAndGlyphs">80</text>
<text x="34.00" y="318.80" font-size="6.7" font-weight="bold" text-anchor="end" textLength="9.15" lengthAdjust="spacingAndGlyphs">100</text>
<text x="37.30" y="416.30" font-size="6.7" font-weight="bold" text-anchor="middle" textLength="3.21" lengthAdjust="spacingAndGlyphs">0</text>
<text x="60.48" y="416.30" font-size="6.7" font-weight="bold" text-anchor="middle" textLength="6.42" lengthAdjust="spacingAndGlyphs">25</text>
<text x="83.66" y="416.30" font-size="6.7" font-weight="bold" text-anchor="middle" textLength="6.42" lengthAdjust="spacingAndGlyphs">50</text>
<text x="106.84" y="416.30" font-size="6.7" font-weight="bold" text-anchor="middle" textLength="6.42" lengthAdjust="spacingAndGlyphs">75</text>
<text x="130.02" y="416.30" font-size="6.7" font-weight="bold" text-anchor="middle" textLength="9.62" lengthAdjust="spacingAndGlyphs">100</text>
<text x="153.20" y="416.30" font-size="6.7" font-weight="bold" text-anchor="middle" textLength="9.62" lengthAdjust="spacingAndGlyphs">125</text>
<text x="97.65" y="426.10" font-size="7.0" font-weight="bold" text-anchor="middle" textLength="66.17" lengthAdjust="spacingAndGlyphs">Months after surgery</text>
<text x="0" y="0" font-size="7.4" font-weight="bold" text-anchor="middle" textLength="86" lengthAdjust="spacingAndGlyphs" transform="translate(20.00 360.85) rotate(-90)">Cancer survival rate (%)</text>
<text x="6.70" y="320.50" font-size="10.3" font-weight="bold" textLength="8.24" lengthAdjust="spacingAndGlyphs" style="stroke-width:0.4px">G</text>
<text x="49.20" y="321.70" font-size="6.6" font-weight="bold" textLength="98.80" lengthAdjust="spacingAndGlyphs">PD-L1 negative expression in IC</text>
<text x="41.80" y="379.30" font-size="7.0" font-weight="bold" textLength="45.32" lengthAdjust="spacingAndGlyphs">Chemotherapy</text>
<path d="M43.00 387.10h9.02M47.51 387.10v-1.8" stroke="#278c5e" stroke-width="1" fill="none"/>
<text x="57.00" y="389.70" font-size="6.5" textLength="54.74" lengthAdjust="spacingAndGlyphs" style="stroke-width:0.15px">non-chemotherapy</text>
<path d="M43.00 397.80h9.02M47.51 397.80v-1.8" stroke="#6a5ac4" stroke-width="1" fill="none"/>
<text x="57.00" y="400.40" font-size="6.5" textLength="40.81" lengthAdjust="spacingAndGlyphs" style="stroke-width:0.15px">chemotherapy</text>
<path d="M37.30 316.20H39.10V321.50H40.80V327.30H41.95V329.65H43.10V332.00H44.30V333.70H45.50V335.40H46.95V337.45H48.40V339.50H49.85V340.95H51.30V342.40H52.75V344.15H54.20V345.90H55.37V346.87H56.53V347.83H57.70V348.80H59.15V350.25H60.60V351.70H61.77V352.70H62.93V353.70H64.10V354.70H65.27V355.83H66.43V356.97H67.60V358.10H68.77V359.10H69.93V360.10H71.10V361.10H72.27V361.67H73.43V362.23H74.60V362.80H75.77V363.57H76.93V364.33H78.10V365.10H79.27V366.07H80.43V367.03H81.60V368.00H82.77V368.60H83.93V369.20H85.10V369.80H86.80V372.00H88.17V372.03H89.53V372.07H90.90V372.10H92.27V372.13H93.63V372.17H95.00V372.20H96.20V372.70H97.40V373.20H98.85V374.60H100.30V376.00H101.00V376.20H118.00H119.20V377.20H120.40V378.10H121.60V379.00H122.80V380.00H124.00V381.00H151.70" stroke="#278c5e" stroke-width="1.35" fill="none" stroke-linejoin="miter"/>
<path d="M89.00 372.03v-2.0M92.00 372.10v-2.0M103.50 376.20v-2.0M108.50 376.20v-2.0M113.00 376.20v-2.0M114.50 376.20v-2.0M128.00 381.00v-2.0M130.50 381.00v-2.0M133.00 381.00v-2.0M135.50 381.00v-2.0M143.00 381.00v-2.0M146.00 381.00v-2.0M151.50 381.00v-2.0" stroke="#278c5e" stroke-width="1.1" fill="none"/>
<path d="M37.30 315.90H38.75V316.65H40.20V317.40H41.40V318.25H42.60V319.10H44.30V322.60H45.45V324.10H46.60V325.60H47.80V326.75H49.00V327.90H50.15V329.35H51.30V330.80H52.75V331.95H54.20V333.10H55.65V333.70H57.10V334.30H58.55V335.15H60.00V336.00H61.20V336.60H62.40V337.20H64.10V340.10H65.25V341.25H66.40V342.40H67.57V343.20H68.73V344.00H69.90V344.80H71.10V345.95H72.30V347.10H73.45V349.15H74.60V351.20H75.75V352.35H76.90V353.50H78.35V354.10H79.80V354.70H81.60V356.20H93.00H94.00V356.95H95.00V357.70H96.20V358.85H97.40V360.00H98.55V360.80H99.70V361.60H101.00V361.80H151.70" stroke="#6a5ac4" stroke-width="1.35" fill="none" stroke-linejoin="miter"/>
<path d="M84.00 356.20v-2.0M87.00 356.20v-2.0M90.00 356.20v-2.0M103.00 361.80v-2.0M107.50 361.80v-2.0M109.50 361.80v-2.0M112.00 361.80v-2.0M115.00 361.80v-2.0M121.00 361.80v-2.0M124.00 361.80v-2.0M126.00 361.80v-2.0M130.00 361.80v-2.0M131.50 361.80v-2.0M134.00 361.80v-2.0M136.00 361.80v-2.0M140.00 361.80v-2.0M142.50 361.80v-2.0M145.00 361.80v-2.0M147.00 361.80v-2.0M149.00 361.80v-2.0M151.50 361.80v-2.0" stroke="#6a5ac4" stroke-width="1.1" fill="none"/>
<g stroke="#3a3a3a" stroke-width="1.3" fill="none">
<path d="M228.40 315.40V405.50M226.20 405.50H348.90"/>
<path d="M226.00 405.50H228.40M226.00 387.54H228.40M226.00 369.58H228.40M226.00 351.62H228.40M226.00 333.66H228.40M226.00 315.70H228.40M228.40 405.50V408.10M251.48 405.50V408.10M274.56 405.50V408.10M297.64 405.50V408.10M320.72 405.50V408.10M343.80 405.50V408.10" stroke-width="1.4" stroke="#222"/>
</g>
<text x="225.10" y="407.90" font-size="6.7" font-weight="bold" text-anchor="end" textLength="3.05" lengthAdjust="spacingAndGlyphs">0</text>
<text x="225.10" y="389.94" font-size="6.7" font-weight="bold" text-anchor="end" textLength="6.10" lengthAdjust="spacingAndGlyphs">20</text>
<text x="225.10" y="371.98" font-size="6.7" font-weight="bold" text-anchor="end" textLength="6.10" lengthAdjust="spacingAndGlyphs">40</text>
<text x="225.10" y="354.02" font-size="6.7" font-weight="bold" text-anchor="end" textLength="6.10" lengthAdjust="spacingAndGlyphs">60</text>
<text x="225.10" y="336.06" font-size="6.7" font-weight="bold" text-anchor="end" textLength="6.10" lengthAdjust="spacingAndGlyphs">80</text>
<text x="225.10" y="318.10" font-size="6.7" font-weight="bold" text-anchor="end" textLength="9.15" lengthAdjust="spacingAndGlyphs">100</text>
<text x="228.40" y="415.30" font-size="6.7" font-weight="bold" text-anchor="middle" textLength="3.19" lengthAdjust="spacingAndGlyphs">0</text>
<text x="251.48" y="415.30" font-size="6.7" font-weight="bold" text-anchor="middle" textLength="6.39" lengthAdjust="spacingAndGlyphs">25</text>
<text x="274.56" y="415.30" font-size="6.7" font-weight="bold" text-anchor="middle" textLength="6.39" lengthAdjust="spacingAndGlyphs">50</text>
<text x="297.64" y="415.30" font-size="6.7" font-weight="bold" text-anchor="middle" textLength="6.39" lengthAdjust="spacingAndGlyphs">75</text>
<text x="320.72" y="415.30" font-size="6.7" font-weight="bold" text-anchor="middle" textLength="9.58" lengthAdjust="spacingAndGlyphs">100</text>
<text x="343.80" y="415.30" font-size="6.7" font-weight="bold" text-anchor="middle" textLength="9.58" lengthAdjust="spacingAndGlyphs">125</text>
<text x="288.65" y="425.10" font-size="7.0" font-weight="bold" text-anchor="middle" textLength="65.89" lengthAdjust="spacingAndGlyphs">Months after surgery</text>
<text x="0" y="0" font-size="7.4" font-weight="bold" text-anchor="middle" textLength="86" lengthAdjust="spacingAndGlyphs" transform="translate(211.10 360.00) rotate(-90)">Cancer survival rate (%)</text>
<text x="198.50" y="320.00" font-size="10.3" font-weight="bold" textLength="7.66" lengthAdjust="spacingAndGlyphs" style="stroke-width:0.4px">H</text>
<text x="247.00" y="318.90" font-size="6.6" font-weight="bold" textLength="101.00" lengthAdjust="spacingAndGlyphs">PD-L1 positive expression in TC</text>
<text x="232.80" y="374.30" font-size="7.0" font-weight="bold" textLength="45.12" lengthAdjust="spacingAndGlyphs">Chemotherapy</text>
<path d="M234.00 381.70h8.98M238.49 381.70v-1.8" stroke="#278c5e" stroke-width="1" fill="none"/>
<text x="247.40" y="384.30" font-size="6.5" textLength="54.51" lengthAdjust="spacingAndGlyphs" style="stroke-width:0.15px">non-chemotherapy</text>
<path d="M234.00 391.80h8.98M238.49 391.80v-1.8" stroke="#6a5ac4" stroke-width="1" fill="none"/>
<text x="247.40" y="394.40" font-size="6.5" textLength="40.63" lengthAdjust="spacingAndGlyphs" style="stroke-width:0.15px">chemotherapy</text>
<path d="M228.40 315.70H228.60V324.00H233.20V332.10H241.10V340.50H249.30V348.40H253.60V356.60H291.60V372.90H318.40" stroke="#278c5e" stroke-width="1.35" fill="none" stroke-linejoin="miter"/>
<path d="M264.00 356.60v-2.0M267.50 356.60v-2.0M295.00 372.90v-2.0M318.00 372.90v-2.0" stroke="#278c5e" stroke-width="1.1" fill="none"/>
<path d="M228.40 315.70H238.20V318.10H244.00V321.10H245.20V324.00H247.00V327.20H270.20V329.80H273.50V333.90H280.70V339.10H289.30V348.40H335.90" stroke="#6a5ac4" stroke-width="1.35" fill="none" stroke-linejoin="miter"/>
<path d="M246.00 324.00v-2.0M262.50 327.20v-2.0M267.00 327.20v-2.0M277.00 333.90v-2.0M280.00 333.90v-2.0M284.00 339.10v-2.0M288.00 339.10v-2.0M294.50 348.40v-2.0M298.00 348.40v-2.0M300.50 348.40v-2.0M335.50 348.40v-2.0" stroke="#6a5ac4" stroke-width="1.1" fill="none"/>
<g stroke="#3a3a3a" stroke-width="1.3" fill="none">
<path d="M419.40 315.40V405.60M417.20 405.60H540.00"/>
<path d="M417.00 405.60H419.40M417.00 387.62H419.40M417.00 369.64H419.40M417.00 351.66H419.40M417.00 333.68H419.40M417.00 315.70H419.40M419.40 405.60V408.20M442.52 405.60V408.20M465.64 405.60V408.20M488.76 405.60V408.20M511.88 405.60V408.20M535.00 405.60V408.20" stroke-width="1.4" stroke="#222"/>
</g>
<text x="416.10" y="408.00" font-size="6.7" font-weight="bold" text-anchor="end" textLength="3.05" lengthAdjust="spacingAndGlyphs">0</text>
<text x="416.10" y="390.02" font-size="6.7" font-weight="bold" text-anchor="end" textLength="6.10" lengthAdjust="spacingAndGlyphs">20</text>
<text x="416.10" y="372.04" font-size="6.7" font-weight="bold" text-anchor="end" textLength="6.10" lengthAdjust="spacingAndGlyphs">40</text>
<text x="416.10" y="354.06" font-size="6.7" font-weight="bold" text-anchor="end" textLength="6.10" lengthAdjust="spacingAndGlyphs">60</text>
<text x="416.10" y="336.08" font-size="6.7" font-weight="bold" text-anchor="end" textLength="6.10" lengthAdjust="spacingAndGlyphs">80</text>
<text x="416.10" y="318.10" font-size="6.7" font-weight="bold" text-anchor="end" textLength="9.15" lengthAdjust="spacingAndGlyphs">100</text>
<text x="419.40" y="415.40" font-size="6.7" font-weight="bold" text-anchor="middle" textLength="3.20" lengthAdjust="spacingAndGlyphs">0</text>
<text x="442.52" y="415.40" font-size="6.7" font-weight="bold" text-anchor="middle" textLength="6.40" lengthAdjust="spacingAndGlyphs">25</text>
<text x="465.64" y="415.40" font-size="6.7" font-weight="bold" text-anchor="middle" textLength="6.40" lengthAdjust="spacingAndGlyphs">50</text>
<text x="488.76" y="415.40" font-size="6.7" font-weight="bold" text-anchor="middle" textLength="6.40" lengthAdjust="spacingAndGlyphs">75</text>
<text x="511.88" y="415.40" font-size="6.7" font-weight="bold" text-anchor="middle" textLength="9.60" lengthAdjust="spacingAndGlyphs">100</text>
<text x="535.00" y="415.40" font-size="6.7" font-weight="bold" text-anchor="middle" textLength="9.60" lengthAdjust="spacingAndGlyphs">125</text>
<text x="479.70" y="425.20" font-size="7.0" font-weight="bold" text-anchor="middle" textLength="66.00" lengthAdjust="spacingAndGlyphs">Months after surgery</text>
<text x="0" y="0" font-size="7.4" font-weight="bold" text-anchor="middle" textLength="86" lengthAdjust="spacingAndGlyphs" transform="translate(402.10 360.05) rotate(-90)">Cancer survival rate (%)</text>
<text x="392.10" y="320.60" font-size="10.3" font-weight="bold" textLength="2.94" lengthAdjust="spacingAndGlyphs" style="stroke-width:0.4px">I</text>
<text x="439.20" y="320.90" font-size="6.6" font-weight="bold" textLength="97.30" lengthAdjust="spacingAndGlyphs">PD-L1 positive expression in IC</text>
<text x="424.60" y="375.40" font-size="7.0" font-weight="bold" textLength="45.20" lengthAdjust="spacingAndGlyphs">Chemotherapy</text>
<path d="M425.40 384.20h9.00M429.90 384.20v-1.8" stroke="#278c5e" stroke-width="1" fill="none"/>
<text x="438.80" y="386.80" font-size="6.5" textLength="54.60" lengthAdjust="spacingAndGlyphs" style="stroke-width:0.15px">non-chemotherapy</text>
<path d="M425.40 394.30h9.00M429.90 394.30v-1.8" stroke="#6a5ac4" stroke-width="1" fill="none"/>
<text x="438.80" y="396.90" font-size="6.5" textLength="40.70" lengthAdjust="spacingAndGlyphs" style="stroke-width:0.15px">chemotherapy</text>
<path d="M419.30 316.40H420.50V317.60H422.20H424.00V321.10H425.10V324.00H426.90V325.50H428.60V327.50H430.00V328.60H431.35V330.90H432.70V333.20H434.10V335.00H435.50V336.80H437.30V338.20H438.65V340.00H440.00V341.80H441.20V342.70H442.40V343.60H443.60V344.50H445.00V345.90H446.40V347.30H447.75V348.20H449.10V349.10H450.45V350.45H451.80V351.80H453.15V353.15H454.50V354.50H455.90V360.20H469.10H469.40V364.20H480.20H482.10V366.50H483.40V369.50H484.60V370.00H485.30V374.40H532.40" stroke="#278c5e" stroke-width="1.35" fill="none" stroke-linejoin="miter"/>
<path d="M459.00 360.20v-2.0M466.00 360.20v-2.0M475.50 364.20v-2.0M491.50 374.40v-2.0M497.00 374.40v-2.0M512.00 374.40v-2.0M513.00 374.40v-2.0M532.00 374.40v-2.0" stroke="#278c5e" stroke-width="1.1" fill="none"/>
<path d="M419.40 315.60H427.50H428.60V317.00H430.40V318.70H432.10V320.50H433.60V321.80H435.00V327.30H436.15V329.10H437.30V330.90H438.65V332.70H440.00V334.50H441.20V335.73H442.40V336.97H443.60V338.20H445.20V338.40H446.80V338.60H448.15V340.00H449.50V341.40H450.75V341.50H452.00V341.60H453.25V341.70H454.50V341.80H455.90V342.70H457.30V343.60H458.80V344.07H460.30V344.53H461.80V345.00H463.15V346.15H464.50V347.30H466.40V349.00H469.10H470.90V350.00H472.70V352.70H474.50V354.50H475.50V357.30H476.40V360.00H477.30V361.40H478.40V361.50H479.50V361.60H480.80V363.50H481.50V365.80H532.40" stroke="#6a5ac4" stroke-width="1.35" fill="none" stroke-linejoin="miter"/>
<path d="M452.00 341.60v-2.0M459.00 344.07v-2.0M467.50 349.00v-2.0M476.50 360.00v-2.0M484.00 365.80v-2.0M486.00 365.80v-2.0M489.50 365.80v-2.0M491.50 365.80v-2.0M508.00 365.80v-2.0M509.50 365.80v-2.0M514.50 365.80v-2.0M532.00 365.80v-2.0" stroke="#6a5ac4" stroke-width="1.1" fill="none"/>
<g stroke="#3a3a3a" stroke-width="1.3" fill="none">
<path d="M136.40 468.80V559.40M134.20 559.40H256.80"/>
<path d="M134.00 559.40H136.40M134.00 536.83H136.40M134.00 514.25H136.40M134.00 491.68H136.40M134.00 469.10H136.40M136.40 559.40V562.00M159.52 559.40V562.00M182.64 559.40V562.00M205.76 559.40V562.00M228.88 559.40V562.00M252.00 559.40V562.00" stroke-width="1.4" stroke="#222"/>
</g>
<text x="133.10" y="561.80" font-size="6.7" font-weight="bold" text-anchor="end" textLength="3.05" lengthAdjust="spacingAndGlyphs">0</text>
<text x="133.10" y="539.23" font-size="6.7" font-weight="bold" text-anchor="end" textLength="6.10" lengthAdjust="spacingAndGlyphs">25</text>
<text x="133.10" y="516.65" font-size="6.7" font-weight="bold" text-anchor="end" textLength="6.10" lengthAdjust="spacingAndGlyphs">50</text>
<text x="133.10" y="494.07" font-size="6.7" font-weight="bold" text-anchor="end" textLength="6.10" lengthAdjust="spacingAndGlyphs">75</text>
<text x="133.10" y="471.50" font-size="6.7" font-weight="bold" text-anchor="end" textLength="9.15" lengthAdjust="spacingAndGlyphs">100</text>
<text x="136.40" y="569.20" font-size="6.7" font-weight="bold" text-anchor="middle" textLength="3.20" lengthAdjust="spacingAndGlyphs">0</text>
<text x="159.52" y="569.20" font-size="6.7" font-weight="bold" text-anchor="middle" textLength="6.40" lengthAdjust="spacingAndGlyphs">25</text>
<text x="182.64" y="569.20" font-size="6.7" font-weight="bold" text-anchor="middle" textLength="6.40" lengthAdjust="spacingAndGlyphs">50</text>
<text x="205.76" y="569.20" font-size="6.7" font-weight="bold" text-anchor="middle" textLength="6.40" lengthAdjust="spacingAndGlyphs">75</text>
<text x="228.88" y="569.20" font-size="6.7" font-weight="bold" text-anchor="middle" textLength="9.60" lengthAdjust="spacingAndGlyphs">100</text>
<text x="252.00" y="569.20" font-size="6.7" font-weight="bold" text-anchor="middle" textLength="9.60" lengthAdjust="spacingAndGlyphs">125</text>
<text x="196.60" y="579.00" font-size="7.0" font-weight="bold" text-anchor="middle" textLength="66.00" lengthAdjust="spacingAndGlyphs">Months after surgery</text>
<text x="0" y="0" font-size="7.4" font-weight="bold" text-anchor="middle" textLength="86" lengthAdjust="spacingAndGlyphs" transform="translate(119.10 513.65) rotate(-90)">Cancer survival rate (%)</text>
<text x="104.40" y="475.50" font-size="10.3" font-weight="bold" textLength="5.90" lengthAdjust="spacingAndGlyphs" style="stroke-width:0.4px">J</text>
<text x="188.10" y="474.10" font-size="6.6" font-weight="bold" textLength="18.50" lengthAdjust="spacingAndGlyphs">pMMR</text>
<text x="139.80" y="536.00" font-size="7.0" font-weight="bold" textLength="45.20" lengthAdjust="spacingAndGlyphs">Chemotherapy</text>
<path d="M140.20 543.10h9.00M144.70 543.10v-1.8" stroke="#278c5e" stroke-width="1" fill="none"/>
<text x="154.00" y="545.70" font-size="6.5" textLength="54.60" lengthAdjust="spacingAndGlyphs" style="stroke-width:0.15px">non-chemotherapy</text>
<path d="M140.20 553.80h9.00M144.70 553.80v-1.8" stroke="#6a5ac4" stroke-width="1" fill="none"/>
<text x="154.00" y="556.40" font-size="6.5" textLength="40.70" lengthAdjust="spacingAndGlyphs" style="stroke-width:0.15px">chemotherapy</text>
<path d="M136.90 469.80H138.70V474.50H139.85V477.40H141.00V480.30H142.15V482.05H143.30V483.80H144.45V485.25H145.60V486.70H146.80V488.75H148.00V490.80H149.15V492.80H150.30V494.80H151.75V496.00H153.20V497.20H154.65V498.65H156.10V500.10H157.25V501.85H158.40V503.60H159.57V504.77H160.73V505.93H161.90V507.10H163.07V508.07H164.23V509.03H165.40V510.00H166.57V510.97H167.73V511.93H168.90V512.90H170.07V513.87H171.23V514.83H172.40V515.80H173.85V516.95H175.30V518.10H176.75V519.00H178.20V519.90H179.40V520.75H180.60V521.60H181.75V521.90H182.90V522.20H184.05V523.95H185.20V525.70H186.37V525.93H187.53V526.17H188.70V526.40H190.02V526.44H191.34V526.48H192.66V526.52H193.98V526.56H195.30V526.60H196.50V527.20H197.70V527.80H198.85V528.70H200.00V529.60H201.80V531.30H216.60H218.40V533.10H219.55V534.00H220.70V534.90H222.50V536.10H249.70" stroke="#278c5e" stroke-width="1.35" fill="none" stroke-linejoin="miter"/>
<path d="M189.00 526.40v-2.0M191.00 526.44v-2.0M193.00 526.52v-2.0M208.00 531.30v-2.0M213.50 531.30v-2.0M226.00 536.10v-2.0M229.50 536.10v-2.0M232.00 536.10v-2.0M234.50 536.10v-2.0M243.50 536.10v-2.0M249.50 536.10v-2.0" stroke="#278c5e" stroke-width="1.1" fill="none"/>
<path d="M136.90 469.20H138.07V469.80H139.23V470.40H140.40V471.00H141.85V472.15H143.30V473.30H144.45V474.75H145.60V476.20H146.80V477.65H148.00V479.10H149.15V480.85H150.30V482.60H151.45V484.05H152.60V485.50H153.80V486.70H155.00V487.90H156.45V488.75H157.90V489.60H159.35V491.05H160.80V492.50H162.25V493.65H163.70V494.80H165.15V496.00H166.60V497.20H167.77V497.57H168.93V497.93H170.10V498.30H171.25V499.80H172.40V501.30H173.85V503.00H175.30V504.70H176.75V505.60H178.20V506.50H179.37V507.07H180.53V507.63H181.70V508.20H182.87V508.60H184.03V509.00H185.20V509.40H186.37V509.60H187.53V509.80H188.70V510.00H190.00V510.60H191.20V511.80H192.40V513.00H193.85V514.50H195.30V516.00H196.80V517.15H198.30V518.30H199.50V518.90H249.70" stroke="#6a5ac4" stroke-width="1.35" fill="none" stroke-linejoin="miter"/>
<path d="M201.50 518.90v-2.0M202.50 518.90v-2.0M205.00 518.90v-2.0M207.00 518.90v-2.0M208.50 518.90v-2.0M212.00 518.90v-2.0M215.50 518.90v-2.0M219.00 518.90v-2.0M221.50 518.90v-2.0M226.00 518.90v-2.0M227.50 518.90v-2.0M229.00 518.90v-2.0M230.50 518.90v-2.0M235.00 518.90v-2.0M237.00 518.90v-2.0M239.00 518.90v-2.0M241.00 518.90v-2.0M243.00 518.90v-2.0M246.00 518.90v-2.0M249.50 518.90v-2.0" stroke="#6a5ac4" stroke-width="1.1" fill="none"/>
<g stroke="#3a3a3a" stroke-width="1.3" fill="none">
<path d="M334.50 470.40V560.60M332.30 560.60H455.00"/>
<path d="M332.10 560.60H334.50M332.10 542.62H334.50M332.10 524.64H334.50M332.10 506.66H334.50M332.10 488.68H334.50M332.10 470.70H334.50M334.50 560.60V563.20M357.70 560.60V563.20M380.90 560.60V563.20M404.10 560.60V563.20M427.30 560.60V563.20M450.50 560.60V563.20" stroke-width="1.4" stroke="#222"/>
</g>
<text x="331.20" y="563.00" font-size="6.7" font-weight="bold" text-anchor="end" textLength="3.05" lengthAdjust="spacingAndGlyphs">0</text>
<text x="331.20" y="545.02" font-size="6.7" font-weight="bold" text-anchor="end" textLength="6.10" lengthAdjust="spacingAndGlyphs">20</text>
<text x="331.20" y="527.04" font-size="6.7" font-weight="bold" text-anchor="end" textLength="6.10" lengthAdjust="spacingAndGlyphs">40</text>
<text x="331.20" y="509.06" font-size="6.7" font-weight="bold" text-anchor="end" textLength="6.10" lengthAdjust="spacingAndGlyphs">60</text>
<text x="331.20" y="491.08" font-size="6.7" font-weight="bold" text-anchor="end" textLength="6.10" lengthAdjust="spacingAndGlyphs">80</text>
<text x="331.20" y="473.10" font-size="6.7" font-weight="bold" text-anchor="end" textLength="9.15" lengthAdjust="spacingAndGlyphs">100</text>
<text x="334.50" y="570.40" font-size="6.7" font-weight="bold" text-anchor="middle" textLength="3.21" lengthAdjust="spacingAndGlyphs">0</text>
<text x="357.70" y="570.40" font-size="6.7" font-weight="bold" text-anchor="middle" textLength="6.42" lengthAdjust="spacingAndGlyphs">25</text>
<text x="380.90" y="570.40" font-size="6.7" font-weight="bold" text-anchor="middle" textLength="6.42" lengthAdjust="spacingAndGlyphs">50</text>
<text x="404.10" y="570.40" font-size="6.7" font-weight="bold" text-anchor="middle" textLength="6.42" lengthAdjust="spacingAndGlyphs">75</text>
<text x="427.30" y="570.40" font-size="6.7" font-weight="bold" text-anchor="middle" textLength="9.63" lengthAdjust="spacingAndGlyphs">100</text>
<text x="450.50" y="570.40" font-size="6.7" font-weight="bold" text-anchor="middle" textLength="9.63" lengthAdjust="spacingAndGlyphs">125</text>
<text x="394.75" y="580.20" font-size="7.0" font-weight="bold" text-anchor="middle" textLength="66.23" lengthAdjust="spacingAndGlyphs">Months after surgery</text>
<text x="0" y="0" font-size="7.4" font-weight="bold" text-anchor="middle" textLength="86" lengthAdjust="spacingAndGlyphs" transform="translate(317.20 515.05) rotate(-90)">Cancer survival rate (%)</text>
<text x="300.80" y="475.50" font-size="10.3" textLength="7.07" lengthAdjust="spacingAndGlyphs" style="stroke-width:0.55px">K</text>
<text x="385.90" y="474.30" font-size="6.6" font-weight="bold" textLength="18.90" lengthAdjust="spacingAndGlyphs">dMMR</text>
<text x="338.60" y="537.20" font-size="7.0" font-weight="bold" textLength="45.36" lengthAdjust="spacingAndGlyphs">Chemotherapy</text>
<path d="M339.40 544.40h9.03M343.92 544.40v-1.8" stroke="#278c5e" stroke-width="1" fill="none"/>
<text x="352.30" y="547.00" font-size="6.5" textLength="54.79" lengthAdjust="spacingAndGlyphs" style="stroke-width:0.15px">non-chemotherapy</text>
<path d="M339.40 555.20h9.03M343.92 555.20v-1.8" stroke="#6a5ac4" stroke-width="1" fill="none"/>
<text x="352.30" y="557.80" font-size="6.5" textLength="40.84" lengthAdjust="spacingAndGlyphs" style="stroke-width:0.15px">chemotherapy</text>
<path d="M336.70 470.80H337.20V480.30H414.40V496.60H446.70V539.30H446.70" stroke="#278c5e" stroke-width="1.35" fill="none" stroke-linejoin="miter"/>
<path d="M349.50 480.30v-2.0M391.50 480.30v-2.0M440.00 496.60v-2.0" stroke="#278c5e" stroke-width="1.1" fill="none"/>
<path d="M336.70 470.80H348.50V476.80H356.10V483.20H376.20V491.20H405.00V505.20H448.40" stroke="#6a5ac4" stroke-width="1.35" fill="none" stroke-linejoin="miter"/>
<path d="M359.50 483.20v-2.0M369.00 483.20v-2.0M383.50 491.20v-2.0M387.00 491.20v-2.0M393.00 491.20v-2.0M411.00 505.20v-2.0M418.50 505.20v-2.0M448.00 505.20v-2.0" stroke="#6a5ac4" stroke-width="1.1" fill="none"/>
</svg>
</body></html>
